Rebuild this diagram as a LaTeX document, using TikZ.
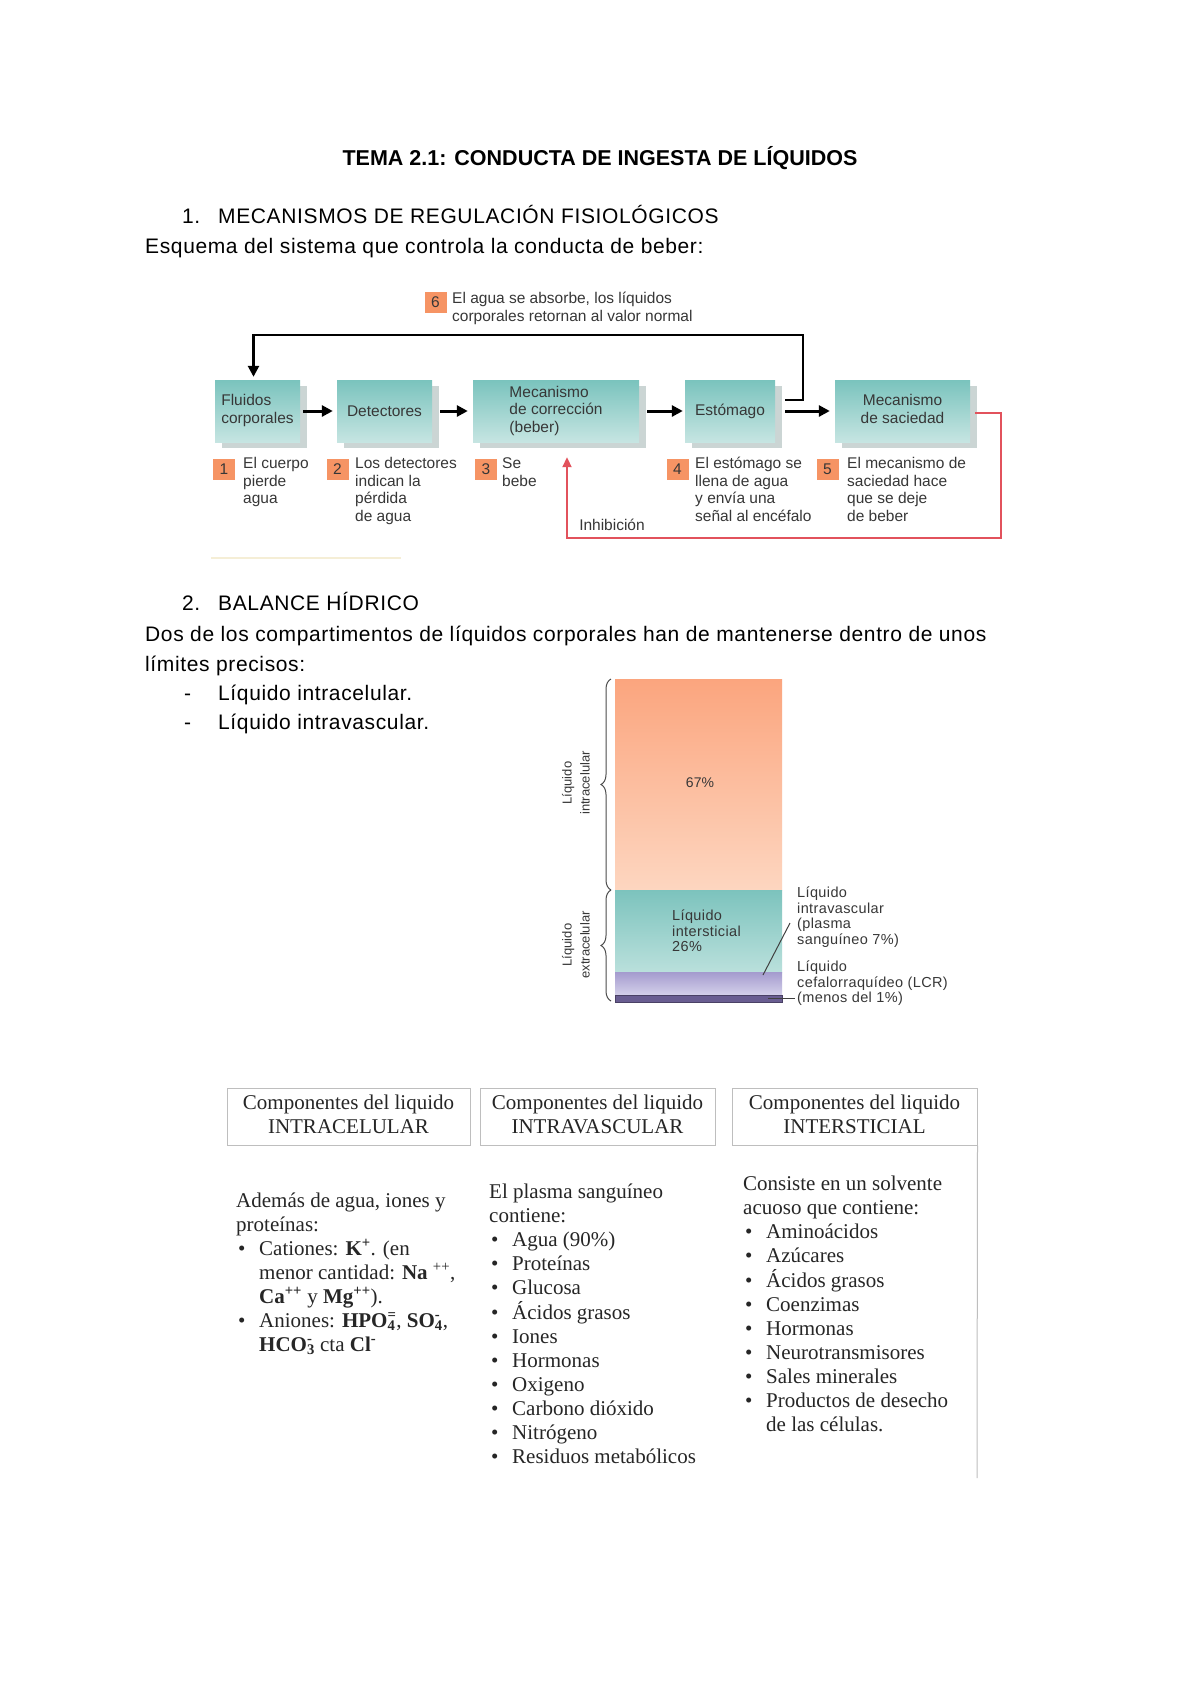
\documentclass[tikz,border=0pt]{standalone}
\usepackage{fontspec}
\setmainfont{Liberation Sans}
\newfontfamily\bodyfont[LetterSpace=3.0]{Liberation Sans}
\newfontfamily\labfont[LetterSpace=2.6]{Liberation Sans}
\newfontfamily\tabfont{Liberation Serif}
\usetikzlibrary{decorations.pathreplacing,arrows.meta,shadows}
\definecolor{tealtop}{RGB}{122,195,189}
\definecolor{tealbot}{RGB}{198,229,226}
\definecolor{shadowc}{RGB}{203,213,212}
\definecolor{numor}{RGB}{246,148,100}
\definecolor{dgray}{RGB}{55,55,55}
\definecolor{redl}{RGB}{226,82,92}
\definecolor{ortop}{RGB}{251,165,126}
\definecolor{orbot}{RGB}{253,214,192}
\definecolor{tltop}{RGB}{124,195,189}
\definecolor{tlbot}{RGB}{186,224,220}
\definecolor{putop}{RGB}{164,155,206}
\definecolor{pubot}{RGB}{212,208,234}
\definecolor{pudark}{RGB}{105,93,145}
\definecolor{gline}{RGB}{190,190,190}
\definecolor{faint}{RGB}{245,238,214}
\newcommand{\mlines}[1]{\begin{tabular}[t]{@{}l@{}}#1\end{tabular}}
\newcommand{\bl}{\hspace*{2pt}\makebox[21pt][l]{•}}
\newcommand{\ind}{\hspace*{23pt}}
\newcommand{\sups}[1]{\smash{\textsuperscript{#1}}}
\newcommand{\subsup}[2]{\smash{\setbox0=\hbox{\textsubscript{#1}}\setbox2=\hbox{\textsuperscript{#2}}%
  \ifdim\wd0>\wd2\relax\rlap{\box2}\box0\else\rlap{\box0}\box2\fi}}
\tikzset{
  body/.style={anchor=base west, inner sep=0pt, font=\bodyfont\fontsize{21}{24}\selectfont},
  dtext/.style={anchor=base west, inner sep=0pt, font=\fontsize{15.5}{17.5}\selectfont, text=dgray},
  tbox/.style={top color=tealtop, bottom color=tealbot, minimum height=62pt, inner sep=0pt,
    font=\fontsize{15.5}{17.5}\selectfont, text=dgray,
    drop shadow={shadow xshift=7pt, shadow yshift=-6pt, fill=shadowc, opacity=1}},
  numbox/.style={fill=numor, minimum width=22pt, minimum height=21pt, inner sep=0pt,
    font=\fontsize{15.5}{17.5}\selectfont, text=dgray},
  arr/.style={line width=3pt, -{Triangle[length=11pt,width=11pt]}},
  fbl/.style={line width=2.5pt, -{Triangle[length=11pt,width=11pt]}},
  redarr/.style={draw=redl, line width=2pt, -{Triangle[length=10pt,width=9pt]}},
  blab/.style={anchor=base west, inner sep=0pt, font=\labfont\fontsize{14.5}{15.5}\selectfont, text=dgray},
  brc/.style={draw=black!70, line width=1pt, decorate, decoration={brace, amplitude=10pt}},
  leader/.style={draw=black!75, line width=1pt},
  hbox/.style={draw=gline, line width=1pt, minimum height=57pt, inner sep=0pt,
    font=\tabfont\fontsize{21}{24}\selectfont, text=black!85},
  ctext/.style={anchor=base west, inner sep=0pt, font=\tabfont\fontsize{21}{24}\selectfont, text=black!85},
}
\begin{document}
\begin{tikzpicture}[x=1pt,y=-1pt]
\useasboundingbox (0,0) rectangle (1200,1698);
\fill[white] (0,0) rectangle (1200,1698);

% ---- header texts
\node[anchor=base, inner sep=0pt, font=\bfseries\fontsize{21.5}{24}\selectfont] (title) at (600,165) {TEMA 2.1: CONDUCTA DE INGESTA DE LÍQUIDOS};
\node[body] (s1n) at (182,223) {1.};
\node[body] (s1) at (218,223) {MECANISMOS DE REGULACIÓN FISIOLÓGICOS};
\node[body] (esq) at (145,253) {Esquema del sistema que controla la conducta de beber:};

% ---- flow diagram
\node[numbox] (n6) at (435.5,302.5) {6};
\node[dtext] (d6) at (452,303.5) {\mlines{El agua se absorbe, los líquidos\\corporales retornan al valor normal}};

\node[tbox, minimum width=85pt] (b1) at (257.5,411) {\mlines{Fluidos\\corporales}};
\node[tbox, minimum width=95pt] (b2) at (384.5,411) {Detectores};
\node[tbox, minimum width=166pt] (b3) at (556,411) {\mlines{Mecanismo\\de corrección\\(beber)}};
\node[tbox, minimum width=90pt] (b4) at (730,411) {Estómago};
\node[tbox, minimum width=135pt] (b5) at (902.5,411) {\begin{tabular}{@{}c@{}}Mecanismo\\de saciedad\end{tabular}};

\draw[arr, shorten <=3pt, shorten >=4pt] (b1) -- (b2);
\draw[arr, shorten <=8pt, shorten >=5pt] (b2) -- (b3);
\draw[arr, shorten <=8pt, shorten >=2pt] (b3) -- (b4);
\draw[arr, shorten <=10pt, shorten >=5pt] (b4) -- (b5);

\coordinate (f0) at (785,400);
\coordinate (f1) at (803,335);
\draw[fbl, shorten >=3pt] (f0) -| (f1) -| ([xshift=-4pt]b1.north);

\coordinate (r0) at (975,413);
\coordinate (r1) at (1001,538);
\draw[redarr, shorten >=15pt] (r0) -| (r1) -| ([xshift=11pt]b3.south);
\node[anchor=base, inner sep=0pt, font=\fontsize{15.5}{17.5}\selectfont, text=dgray] (inh) at (612,530.5) {Inhibición};

\node[numbox] (n1) at (224,469.5) {1};
\node[dtext] (d1) at (243,468.5) {\mlines{El cuerpo\\pierde\\agua}};
\node[numbox] (n2) at (337.5,469.5) {2};
\node[dtext] (d2) at (355,468.5) {\mlines{Los detectores\\indican la\\pérdida\\de agua}};
\node[numbox] (n3) at (486,469.5) {3};
\node[dtext] (d3) at (502,468.5) {\mlines{Se\\bebe}};
\node[numbox] (n4) at (677.5,469.5) {4};
\node[dtext] (d4) at (695,468.5) {\mlines{El estómago se\\llena de agua\\y envía una\\señal al encéfalo}};
\node[numbox] (n5) at (827.5,469.5) {5};
\node[dtext] (d5) at (847,468.5) {\mlines{El mecanismo de\\saciedad hace\\que se deje\\de beber}};

\coordinate (fa) at (211,558);
\coordinate (fb) at (401,558);
\draw[draw=faint, line width=2pt] (fa) -- (fb);

% ---- section 2
\node[body] (s2n) at (182,610) {2.};
\node[body] (s2) at (218,610) {BALANCE HÍDRICO};
\node[body] (p1) at (145,641) {Dos de los compartimentos de líquidos corporales han de mantenerse dentro de unos};
\node[body] (p2) at (145,671) {límites precisos:};
\node[body] (dash1) at (184,700) {-};
\node[body] (li1) at (218,700) {Líquido intracelular.};
\node[body] (dash2) at (184,729) {-};
\node[body] (li2) at (218,729) {Líquido intravascular.};

% ---- bar chart
\fill[top color=ortop, bottom color=orbot] (615,679) rectangle (782,890);
\fill[top color=tltop, bottom color=tlbot] (615,890) rectangle (782,972);
\fill[top color=putop, bottom color=pubot] (615,972) rectangle (782,995);
\filldraw[fill=pudark, draw=pudark!70!black, line width=0.8pt] (615,995) rectangle (782,1002);

\draw[brc] (611,890) -- (611,679);
\draw[brc] (611,1001) -- (611,890);
\node[rotate=90, align=center, inner sep=0pt, font=\fontsize{13}{18}\selectfont, text=dgray] (lic) at (576,783) {Líquido\\intracelular};
\node[rotate=90, align=center, inner sep=0pt, font=\fontsize{13}{18}\selectfont, text=dgray] (lec) at (576,945) {Líquido\\extracelular};

\node[anchor=center, inner sep=0pt, font=\fontsize{14}{15}\selectfont, text=dgray] (p67) at (700,783) {67\%};
\node[blab] (lint) at (672,920.5) {\mlines{Líquido\\intersticial\\26\%}};
\node[blab] (lvas) at (797,897.5) {\mlines{Líquido\\intravascular\\(plasma\\sanguíneo 7\%)}};
\node[blab] (lcr) at (797,971.5) {\mlines{Líquido\\cefalorraquídeo (LCR)\\(menos del 1\%)}};
\coordinate (l1a) at (763,975);
\coordinate (l1b) at (790,923);
\draw[leader] (l1a) -- (l1b);
\coordinate (l2a) at (768,998);
\coordinate (l2b) at (795,998);
\draw[leader] (l2a) -- (l2b);

% ---- table
\node[hbox, minimum width=243pt] (h1) at (348.5,1116.5) {\begin{tabular}{@{}c@{}}Componentes del liquido\\INTRACELULAR\end{tabular}};
\node[hbox, minimum width=235pt] (h2) at (597.5,1116.5) {\begin{tabular}{@{}c@{}}Componentes del liquido\\INTRAVASCULAR\end{tabular}};
\node[hbox, minimum width=245pt] (h3) at (854.5,1116.5) {\begin{tabular}{@{}c@{}}Componentes del liquido\\INTERSTICIAL\end{tabular}};
\coordinate (tend) at (977,1478);
\draw[draw=gline, line width=1pt] (h3.south east) -- (tend);

\node[ctext] (c1) at (236,1207) {\mlines{Además de agua, iones y\\
proteínas:\\
\bl Cationes: \textbf{K\sups{+}}. (en\\
\ind menor cantidad: \textbf{Na} \sups{++},\\
\ind\textbf{Ca\sups{++}} y \textbf{Mg\sups{++}}).\\
\bl Aniones: \textbf{HPO\subsup{4}{=}}, \textbf{SO\subsup{4}{-}},\\
\ind\textbf{HCO\subsup{3}{-}} cta \textbf{Cl\sups{-}}}};

\node[ctext] (c2) at (489,1198) {\mlines{El plasma sanguíneo\\contiene:\\
\bl Agua (90\%)\\\bl Proteínas\\\bl Glucosa\\\bl Ácidos grasos\\\bl Iones\\
\bl Hormonas\\\bl Oxigeno\\\bl Carbono dióxido\\\bl Nitrógeno\\\bl Residuos metabólicos}};

\node[ctext] (c3) at (743,1190) {\mlines{Consiste en un solvente\\acuoso que contiene:\\
\bl Aminoácidos\\\bl Azúcares\\\bl Ácidos grasos\\\bl Coenzimas\\\bl Hormonas\\
\bl Neurotransmisores\\\bl Sales minerales\\\bl Productos de desecho\\\ind de las células.}};
\end{tikzpicture}
\end{document}
